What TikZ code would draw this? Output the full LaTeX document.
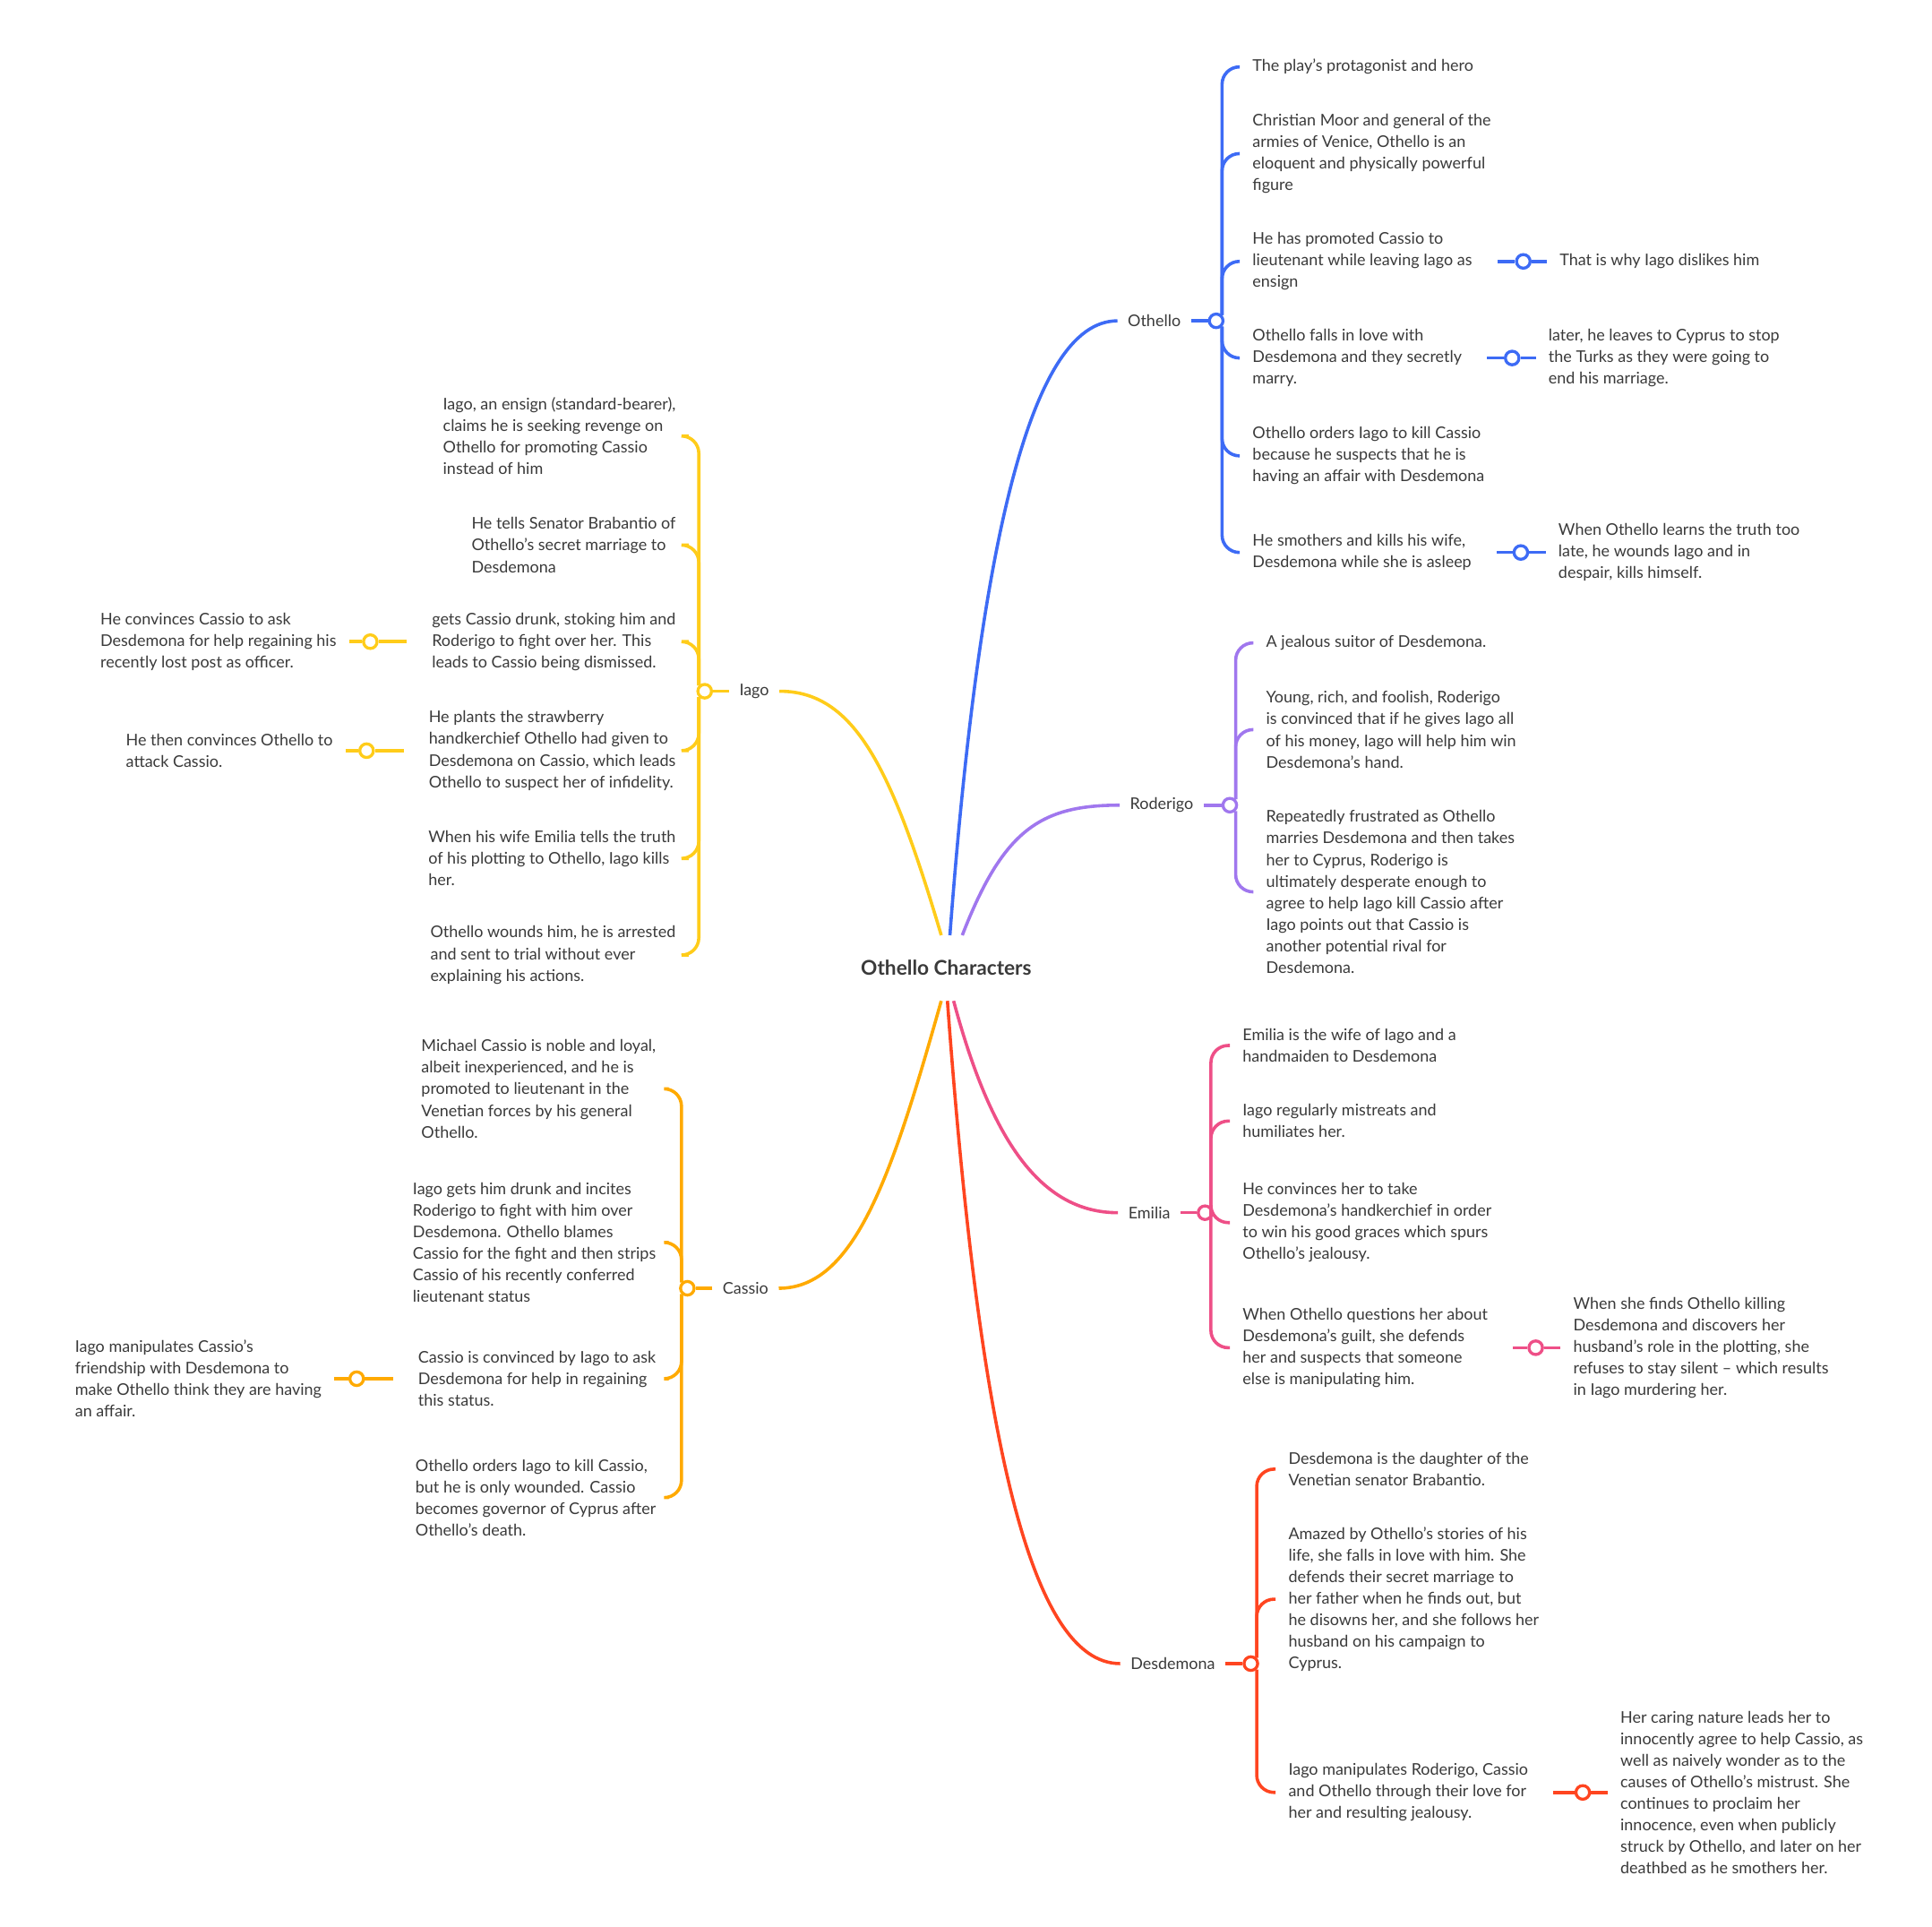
\documentclass[tikz,border=0pt]{standalone}
\usepackage{fontspec}
\setmainfont{Lato}
\begin{document}
\begin{tikzpicture}[x=0.5pt,y=-0.5pt,
  every node/.style={font=\fontsize{6.5}{8.7}\selectfont, text=txt},
  br/.style={line width=1.3pt},
  main/.style={inner xsep=4pt, inner ysep=2pt},
  kidR/.style={anchor=west, align=left, inner xsep=5pt, inner ysep=0pt},
  kidL/.style={anchor=east, align=left, inner xsep=5pt, inner ysep=0pt},
  gtR/.style={anchor=west, align=left, inner xsep=0pt, inner ysep=0pt},
  gtL/.style={anchor=east, align=left, inner xsep=0pt, inner ysep=0pt},
  dot/.style={circle, draw, fill=white, line width=1.2pt, minimum size=5.5pt, inner sep=0pt},
  spine/.style={line width=1.3pt, rounded corners=7pt}]
\definecolor{txt}{HTML}{3A3A3A}
\definecolor{cO}{HTML}{3D6BF5}
\definecolor{cR}{HTML}{A077EE}
\definecolor{cE}{HTML}{EE4F87}
\definecolor{cD}{HTML}{FF4520}
\definecolor{cC}{HTML}{FFAA00}
\definecolor{cI}{HTML}{FFCC1A}
\useasboundingbox (0,0) rectangle (1560,1555);
\node[font=\fontsize{8.2}{10}\selectfont\bfseries] (root) at (764,781) {Othello Characters};
\coordinate (rt1) at (767,755); \coordinate (rt2) at (777,755); \coordinate (rt3) at (760,755);
\coordinate (rb1) at (760,808); \coordinate (rb2) at (765,808); \coordinate (rb3) at (770,808);

% ---------- Othello
\node[main] (O) at (932,259) {Othello};
\node[dot, draw=cO] (Oc) at (982,259) {};
\draw[br,cO] (rt1) .. controls (790,450) and (830,259) .. (O.west);
\draw[br,cO] (O.east) -- (Oc);
\node[kidR] (O1) at (1001,54) {The play’s protagonist and hero};
\node[kidR] (O2) at (1001,124) {Christian Moor and general of the\\armies of Venice, Othello is an\\eloquent and physically powerful\\figure};
\node[kidR] (O3) at (1001,211) {He has promoted Cassio to\\lieutenant while leaving Iago as\\ensign};
\node[kidR] (O4) at (1001,289) {Othello falls in love with\\Desdemona and they secretly\\marry.};
\node[kidR] (O5) at (1001,368) {Othello orders Iago to kill Cassio\\because he suspects that he is\\having an affair with Desdemona};
\node[kidR] (O6) at (1001,446) {He smothers and kills his wife,\\Desdemona while she is asleep};
\foreach \k in {O1,O2,O3} \draw[spine,cO] (Oc.north east) |- (\k.west);
\foreach \k in {O4,O5,O6} \draw[spine,cO] (Oc.south east) |- (\k.west);
\node[dot, draw=cO] (O3c) at (1230,211) {};
\node[gtR] (O3g) at (1259,211) {That is why Iago dislikes him};
\node[dot, draw=cO] (O4c) at (1221,289) {};
\node[gtR] (O4g) at (1250,289) {later, he leaves to Cyprus to stop\\the Turks as they were going to\\end his marriage.};
\node[dot, draw=cO] (O6c) at (1228,446) {};
\node[gtR] (O6g) at (1258,446) {When Othello learns the truth too\\late, he wounds Iago and in\\despair, kills himself.};
\foreach \a/\b in {O3/O3,O4/O4,O6/O6}{
  \draw[br,cO] ([xshift=5pt]\a.east) -- (\b c);
  \draw[br,cO] (\b c) -- ([xshift=-5pt]\b g.west);}

% ---------- Roderigo
\node[main] (R) at (938,650) {Roderigo};
\node[dot, draw=cR] (Rc) at (993,650) {};
\draw[br,cR] (rt2) .. controls (810,670) and (840,650) .. (R.west);
\draw[br,cR] (R.east) -- (Rc);
\node[kidR] (R1) at (1012,519) {A jealous suitor of Desdemona.};
\node[kidR] (R2) at (1012,589) {Young, rich, and foolish, Roderigo\\is convinced that if he gives Iago all\\of his money, Iago will help him win\\Desdemona’s hand.};
\node[kidR] (R3) at (1012,720) {Repeatedly frustrated as Othello\\marries Desdemona and then takes\\her to Cyprus, Roderigo is\\ultimately desperate enough to\\agree to help Iago kill Cassio after\\Iago points out that Cassio is\\another potential rival for\\Desdemona.};
\foreach \k in {R1,R2} \draw[spine,cR] (Rc.north east) |- (\k.west);
\draw[spine,cR] (Rc.south east) |- (R3.west);

% ---------- Emilia
\node[main] (E) at (928,979) {Emilia};
\node[dot, draw=cE] (Ec) at (973,979) {};
\draw[br,cE] (rb3) .. controls (800,920) and (840,979) .. (E.west);
\draw[br,cE] (E.east) -- (Ec);
\node[kidR] (E1) at (993,844) {Emilia is the wife of Iago and a\\handmaiden to Desdemona};
\node[kidR] (E2) at (993,905) {Iago regularly mistreats and\\humiliates her.};
\node[kidR] (E3) at (993,987) {He convinces her to take\\Desdemona’s handkerchief in order\\to win his good graces which spurs\\Othello’s jealousy.};
\node[kidR] (E4) at (993,1088) {When Othello questions her about\\Desdemona’s guilt, she defends\\her and suspects that someone\\else is manipulating him.};
\foreach \k in {E1,E2} \draw[spine,cE] (Ec.north east) |- (\k.west);
\foreach \k in {E3,E4} \draw[spine,cE] (Ec.south east) |- (\k.west);
\node[dot, draw=cE] (E4c) at (1240,1088) {};
\node[gtR] (E4g) at (1270,1088) {When she finds Othello killing\\Desdemona and discovers her\\husband’s role in the plotting, she\\refuses to stay silent – which results\\in Iago murdering her.};
\draw[br,cE] ([xshift=5pt]E4.east) -- (E4c);
\draw[br,cE] (E4c) -- ([xshift=-5pt]E4g.west);

% ---------- Desdemona
\node[main] (D) at (947,1343) {Desdemona};
\node[dot, draw=cD] (Dc) at (1010,1343) {};
\draw[br,cD] (rb2) .. controls (790,1150) and (830,1343) .. (D.west);
\draw[br,cD] (D.east) -- (Dc);
\node[kidR] (D1) at (1030,1186) {Desdemona is the daughter of the\\Venetian senator Brabantio.};
\node[kidR] (D2) at (1030,1291) {Amazed by Othello’s stories of his\\life, she falls in love with him. She\\defends their secret marriage to\\her father when he finds out, but\\he disowns her, and she follows her\\husband on his campaign to\\Cyprus.};
\node[kidR] (D3) at (1030,1447) {Iago manipulates Roderigo, Cassio\\and Othello through their love for\\her and resulting jealousy.};
\foreach \k in {D1,D2} \draw[spine,cD] (Dc.north east) |- (\k.west);
\draw[spine,cD] (Dc.south east) |- (D3.west);
\node[dot, draw=cD] (D3c) at (1278,1447) {};
\node[gtR] (D3g) at (1308,1447) {Her caring nature leads her to\\innocently agree to help Cassio, as\\well as naively wonder as to the\\causes of Othello’s mistrust. She\\continues to proclaim her\\innocence, even when publicly\\struck by Othello, and later on her\\deathbed as he smothers her.};
\draw[br,cD] ([xshift=5pt]D3.east) -- (D3c);
\draw[br,cD] (D3c) -- ([xshift=-5pt]D3g.west);

% ---------- Iago
\node[main] (I) at (609,558) {Iago};
\node[dot, draw=cI] (Ic) at (569,558) {};
\draw[br,cI] (rt3) .. controls (720,620) and (690,558) .. (I.east);
\draw[br,cI] (I.west) -- (Ic);
\node[kidL] (I1) at (556,352) {Iago, an ensign (standard-bearer),\\claims he is seeking revenge on\\Othello for promoting Cassio\\instead of him};
\node[kidL] (I2) at (556,440) {He tells Senator Brabantio of\\Othello’s secret marriage to\\Desdemona};
\node[kidL] (I3) at (556,518) {gets Cassio drunk, stoking him and\\Roderigo to fight over her. This\\leads to Cassio being dismissed.};
\node[kidL] (I4) at (556,606) {He plants the strawberry\\handkerchief Othello had given to\\Desdemona on Cassio, which leads\\Othello to suspect her of infidelity.};
\node[kidL] (I5) at (556,693) {When his wife Emilia tells the truth\\of his plotting to Othello, Iago kills\\her.};
\node[kidL] (I6) at (556,771) {Othello wounds him, he is arrested\\and sent to trial without ever\\explaining his actions.};
\foreach \k in {I1,I2,I3} \draw[spine,cI] (Ic.north west) |- (\k.east);
\foreach \k in {I4,I5,I6} \draw[spine,cI] (Ic.south west) |- (\k.east);
\node[dot, draw=cI] (I3c) at (299,518) {};
\node[gtL] (I3g) at (272,518) {He convinces Cassio to ask\\Desdemona for help regaining his\\recently lost post as officer.};
\node[dot, draw=cI] (I4c) at (296,606) {};
\node[gtL] (I4g) at (269,606) {He then convinces Othello to\\attack Cassio.};
\foreach \b in {I3,I4}{
  \draw[br,cI] ([xshift=-5pt]\b.west) -- (\b c);
  \draw[br,cI] (\b c) -- ([xshift=5pt]\b g.east);}

% ---------- Cassio
\node[main] (C) at (602,1040) {Cassio};
\node[dot, draw=cC] (Cc) at (555,1040) {};
\draw[br,cC] (rb1) .. controls (720,950) and (690,1040) .. (C.east);
\draw[br,cC] (C.west) -- (Cc);
\node[kidL] (C1) at (540,879) {Michael Cassio is noble and loyal,\\albeit inexperienced, and he is\\promoted to lieutenant in the\\Venetian forces by his general\\Othello.};
\node[kidL] (C2) at (540,1003) {Iago gets him drunk and incites\\Roderigo to fight with him over\\Desdemona. Othello blames\\Cassio for the fight and then strips\\Cassio of his recently conferred\\lieutenant status};
\node[kidL] (C3) at (540,1113) {Cassio is convinced by Iago to ask\\Desdemona for help in regaining\\this status.};
\node[kidL] (C4) at (540,1209) {Othello orders Iago to kill Cassio,\\but he is only wounded. Cassio\\becomes governor of Cyprus after\\Othello’s death.};
\foreach \k in {C1,C2} \draw[spine,cC] (Cc.north west) |- (\k.east);
\foreach \k in {C3,C4} \draw[spine,cC] (Cc.south west) |- (\k.east);
\node[dot, draw=cC] (C3c) at (288,1113) {};
\node[gtL] (C3g) at (260,1113) {Iago manipulates Cassio’s\\friendship with Desdemona to\\make Othello think they are having\\an affair.};
\draw[br,cC] ([xshift=-5pt]C3.west) -- (C3c);
\draw[br,cC] (C3c) -- ([xshift=5pt]C3g.east);
\end{tikzpicture}
\end{document}
